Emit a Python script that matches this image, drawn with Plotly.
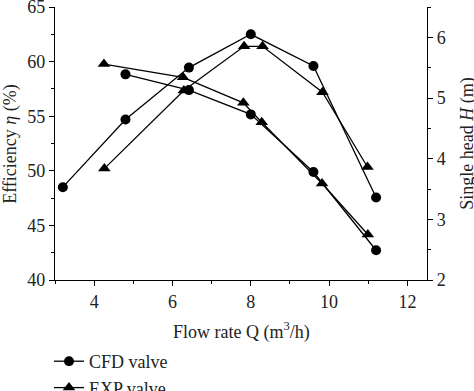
import plotly.graph_objects as go

# Efficiency (left axis)
cfd_eff_q = [3.2, 4.8, 6.42, 8.0, 9.6, 11.2]
cfd_eff = [48.5, 54.7, 59.45, 62.5, 59.6, 47.55]
exp_eff_q = [4.26, 6.29, 7.83, 8.30, 9.83, 10.98]
exp_eff = [50.2, 57.35, 61.4, 61.4, 57.2, 50.35]

# Single head (right axis)
cfd_head_q = [4.8, 6.42, 8.0, 9.6, 11.2]
cfd_head = [5.39, 5.13, 4.73, 3.78, 2.49]
exp_head_q = [4.25, 6.27, 7.81, 8.28, 9.82, 10.99]
exp_head = [5.56, 5.34, 4.92, 4.60, 3.59, 2.75]

FONT = "Liberation Serif"
FS = 18
TXT = "#222"
W, H = 474, 391
fig = go.Figure()

line = dict(color="black", width=1.3)
fig.add_trace(go.Scatter(x=cfd_eff_q, y=cfd_eff, mode="lines+markers", name="CFD valve",
                         legendgroup="cfd", line=line,
                         marker=dict(symbol="circle", size=10, color="black")))
fig.add_trace(go.Scatter(x=exp_eff_q, y=exp_eff, mode="lines+markers", name="EXP valve",
                         legendgroup="exp", line=line,
                         marker=dict(symbol="triangle-up", size=11, color="black")))
fig.add_trace(go.Scatter(x=cfd_head_q, y=cfd_head, mode="lines+markers", name="CFD valve",
                         legendgroup="cfd", showlegend=False, yaxis="y2", line=line,
                         marker=dict(symbol="circle", size=10, color="black")))
fig.add_trace(go.Scatter(x=exp_head_q, y=exp_head, mode="lines+markers", name="EXP valve",
                         legendgroup="exp", showlegend=False, yaxis="y2", line=line,
                         marker=dict(symbol="triangle-up", size=11, color="black")))

axis_common = dict(showgrid=False, zeroline=False, showline=True, linecolor="black",
                   linewidth=1.2, ticks="outside", ticklen=5, tickcolor="black",
                   tickwidth=1.2, automargin=False, ticklabeloverflow="allow",
                   tickfont=dict(family=FONT, size=FS, color=TXT))

fig.update_layout(
    width=W, height=H,
    margin=dict(l=55, r=47, t=7, b=111, autoexpand=False),
    paper_bgcolor="white", plot_bgcolor="white",
    font=dict(family=FONT, size=FS, color=TXT),
    xaxis=dict(range=[3, 12.5], dtick=2, tick0=0,
               minor=dict(dtick=1, tick0=0, ticks="outside", ticklen=3, tickcolor="black"),
               **axis_common),
    yaxis=dict(range=[40, 65], dtick=5, tick0=40,
               minor=dict(dtick=2.5, tick0=40, ticks="outside", ticklen=3, tickcolor="black"),
               **axis_common),
    yaxis2=dict(range=[2, 6.5], dtick=1, tick0=2, overlaying="y", side="right",
                anchor="x",
                minor=dict(dtick=0.5, tick0=2, ticks="outside", ticklen=3, tickcolor="black"),
                **axis_common),
    legend=dict(xref="container", yref="container", x=49 / W, y=1 - 343 / H,
                xanchor="left", yanchor="top", orientation="v",
                font=dict(family=FONT, size=FS, color=TXT), bgcolor="rgba(0,0,0,0)",
                tracegroupgap=0, itemwidth=30),
    showlegend=True,
    annotations=[
        dict(text="Flow rate Q (m<sup>3</sup>/h)", xref="paper", yref="paper",
             x=0.5, y=-0.185, xanchor="center", yanchor="middle", showarrow=False,
             font=dict(family=FONT, size=FS, color=TXT)),
        dict(text="Efficiency <i>η</i> (%)", xref="paper", yref="paper",
             x=-0.12, y=0.5, xanchor="center", yanchor="middle", showarrow=False,
             textangle=-90, font=dict(family=FONT, size=FS, color=TXT)),
        dict(text="Single head <i>H</i> (m)", xref="paper", yref="paper",
             x=1.108, y=0.5, xanchor="center", yanchor="middle", showarrow=False,
             textangle=-90, font=dict(family=FONT, size=FS, color=TXT)),
    ],
)

fig.write_html("out.html", config={"displayModeBar": False},
               post_script="document.body.style.margin='0';")
